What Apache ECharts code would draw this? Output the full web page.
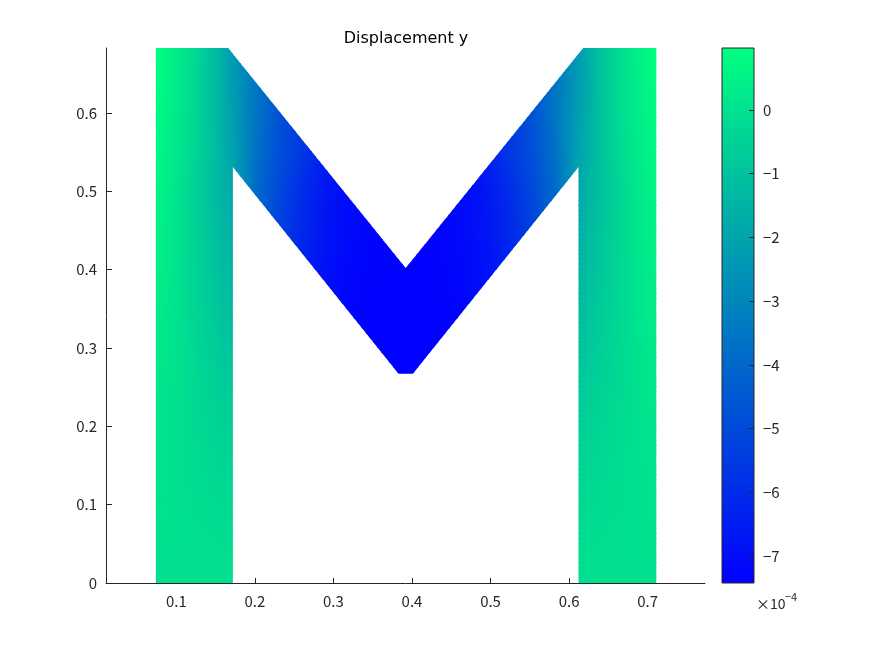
<!DOCTYPE html>
<html><head><meta charset="utf-8">
<script src="https://cdn.jsdelivr.net/npm/echarts@6/dist/echarts.min.js"></script>
<style>html,body{margin:0;padding:0;background:#fff}#c{width:875px;height:656px}</style>
</head><body><div id="c"></div>
<script>
// ---- data ----
const titleText = 'Displacement y';
const xTicks = [0.1, 0.2, 0.3, 0.4, 0.5, 0.6, 0.7];
const yTicks = [0, 0.1, 0.2, 0.3, 0.4, 0.5, 0.6];
const cbTicks = [-7, -6, -5, -4, -3, -2, -1, 0];
const cbExponent = '−4';
const xRange = [0.0105, 0.773];
const yRange = [0, 0.683];
const cRange = [-7.42, 0.97]; // displacement, ×1e-4
// outline of the M-shaped domain
const outlineX = [0.074, 0.074, 0.166, 0.392, 0.618, 0.711, 0.711, 0.612, 0.612, 0.401, 0.383, 0.172, 0.172];
const outlineY = [0, 0.683, 0.683, 0.402, 0.683, 0.683, 0, 0, 0.531, 0.267, 0.267, 0.531, 0];
// sample positions of the displacement field
const sampleX = [0.074, 0.098, 0.123, 0.148, 0.172, 0.2, 0.23, 0.26, 0.29, 0.32, 0.35, 0.392,
                 0.434, 0.464, 0.494, 0.524, 0.554, 0.584, 0.612, 0.636, 0.661, 0.686, 0.711];
const sampleY = [0, 0.05, 0.1, 0.15, 0.2, 0.25, 0.3, 0.35, 0.4, 0.45, 0.5, 0.55, 0.6, 0.65, 0.683];
const n = null;
const dispY = [
  [-0.05,-0.05,-0.05,-0.05,-0.05, n,n,n,n,n,n, n,  n,n,n,n,n,n, -0.05,-0.05,-0.05,-0.05,-0.05],
  [0.0,-0.03,-0.06,-0.1,-0.15, n,n,n,n,n,n, n,  n,n,n,n,n,n, -0.15,-0.1,-0.06,-0.03,0.0],
  [0.05,-0.03,-0.11,-0.2,-0.29, n,n,n,n,n,n, n,  n,n,n,n,n,n, -0.29,-0.2,-0.11,-0.03,0.05],
  [0.1,-0.03,-0.17,-0.31,-0.45, n,n,n,n,n,n, n,  n,n,n,n,n,n, -0.45,-0.31,-0.17,-0.03,0.1],
  [0.17,-0.02,-0.22,-0.42,-0.62, n,n,n,n,n,n, n,  n,n,n,n,n,n, -0.62,-0.42,-0.22,-0.02,0.17],
  [0.23,0.0,-0.28,-0.55,-0.83, n,n,n,n,n,n, -7.42,  n,n,n,n,n,n, -0.83,-0.55,-0.28,0.0,0.23],
  [0.3,0.03,-0.33,-0.68,-1.04, n,n,n,n,n,-7.4, -7.42,  -7.4,n,n,n,n,n, -1.04,-0.68,-0.33,0.03,0.3],
  [0.38,0.06,-0.38,-0.8,-1.25, n,n,n,n,-7.3,-7.38, -7.42,  -7.38,-7.3,n,n,n,n, -1.25,-0.8,-0.38,0.06,0.38],
  [0.47,0.1,-0.42,-0.93,-1.46, n,n,-6.4,-6.9,-7.2,-7.35, -7.42,  -7.35,-7.2,-6.9,-6.4,n,n, -1.46,-0.93,-0.42,0.1,0.47],
  [0.55,0.14,-0.46,-1.06,-1.68, n,-5.3,-6.1,-6.75,-7.1,-7.3, n,  -7.3,-7.1,-6.75,-6.1,-5.3,n, -1.68,-1.06,-0.46,0.14,0.55],
  [0.63,0.18,-0.5,-1.2,-1.9, -3.9,-5.0,-6.0,-6.7,-7.1,n, n,  n,-7.1,-6.7,-6.0,-5.0,-3.9, -1.9,-1.2,-0.5,0.18,0.63],
  [0.74,0.26,-0.35,-1.15,-2.1, -3.6,-4.8,-5.6,-6.4,n,n, n,  n,n,-6.4,-5.6,-4.8,-3.6, -2.1,-1.15,-0.35,0.26,0.74],
  [0.84,0.33,-0.3,-1.2,-2.2, -3.5,-4.7,n,n,n,n, n,  n,n,n,n,-4.7,-3.5, -2.2,-1.2,-0.3,0.33,0.84],
  [0.92,0.4,-0.28,-1.2,-2.3, -3.5,n,n,n,n,n, n,  n,n,n,n,n,-3.5, -2.3,-1.2,-0.28,0.4,0.92],
  [0.97,0.45,-0.25,-1.2,-2.3, n,n,n,n,n,n, n,  n,n,n,n,n,n, -2.3,-1.2,-0.25,0.45,0.97]
];

// ---- helpers ----
const FONT = '"Noto Sans CJK JP", "Noto Sans", sans-serif';
const TITLE_FONT = '"DejaVu Sans", sans-serif';
const AX = '#262626';
const SHADE_STEPS = 8; // shading sub-strips per row interval (rendering only)
function winterRGB(v) {
  const t = Math.max(0, Math.min(1, (v - cRange[0]) / (cRange[1] - cRange[0])));
  return [0, 255 * t, 255 * (1 - t / 2)];
}
function rgbStr(c) { return 'rgb(' + c.map(Math.round).join(',') + ')'; }
function winter(v) { return rgbStr(winterRGB(v)); }
const outlinePts = outlineX.map((x, i) => [x, outlineY[i]]);
function clipHalf(pts, inside, cut) {
  const out = [];
  for (let i = 0; i < pts.length; i++) {
    const cur = pts[i], prev = pts[(i + pts.length - 1) % pts.length];
    const ci = inside(cur), pi = inside(prev);
    if (ci) { if (!pi) out.push(cut(prev, cur)); out.push(cur); }
    else if (pi) out.push(cut(prev, cur));
  }
  return out;
}
const atY = (a, b, y) => [a[0] + (b[0] - a[0]) * (y - a[1]) / (b[1] - a[1]), y];
const fmtMinus = v => (v < 0 ? '−' + Math.abs(v) : String(v));

// one drawn strip per (row interval, shading step)
const strips = [];
for (let i = 0; i < sampleY.length - 1; i++) {
  for (let j = 0; j < SHADE_STEPS; j++) strips.push([i, j]);
}

const chart = echarts.init(document.getElementById('c'), null, {renderer: 'canvas'});
chart.setOption({
  animation: false,
  backgroundColor: '#fff',
  graphic: [
    {type: 'text', x: 406, y: 31, style: {text: titleText, textAlign: 'center', textVerticalAlign: 'top', font: '16px ' + TITLE_FONT, fill: '#000'}},
    {type: 'text', x: 756, y: 597, style: {text: '×10', font: '14px ' + FONT, fill: AX}},
    {type: 'text', x: 785, y: 591, style: {text: cbExponent, font: '11px ' + FONT, fill: AX}}
  ],
  grid: [
    {left: 106, top: 48, width: 599, height: 535},
    {left: 722, top: 48, width: 32, height: 535}
  ],
  xAxis: [
    {gridIndex: 0, type: 'value', min: xRange[0], max: xRange[1],
     axisLine: {show: true, onZero: false, lineStyle: {color: AX, width: 1}},
     axisTick: {show: true, inside: true, length: 5, customValues: xTicks, lineStyle: {color: AX}},
     axisLabel: {customValues: xTicks, formatter: v => v.toFixed(1), color: AX, fontFamily: FONT, fontSize: 15, margin: 11},
     splitLine: {show: false}},
    {gridIndex: 1, type: 'value', min: 0, max: 1, show: false}
  ],
  yAxis: [
    {gridIndex: 0, type: 'value', min: yRange[0], max: yRange[1],
     axisLine: {show: true, onZero: false, lineStyle: {color: AX, width: 1}},
     axisTick: {show: true, inside: true, length: 6, customValues: yTicks, lineStyle: {color: AX}},
     axisLabel: {customValues: yTicks, formatter: v => (v === 0 ? '0' : v.toFixed(1)), color: AX, fontFamily: FONT, fontSize: 15, margin: 9},
     splitLine: {show: false}},
    {gridIndex: 1, type: 'value', min: cRange[0], max: cRange[1], position: 'right', z: 5,
     axisLine: {show: false, onZero: false},
     axisTick: {show: true, inside: true, length: 5, customValues: cbTicks, lineStyle: {color: AX}},
     axisLabel: {customValues: cbTicks, formatter: fmtMinus, color: AX, fontFamily: FONT, fontSize: 15, margin: 9},
     splitLine: {show: false}}
  ],
  series: [
    {
      type: 'custom', name: 'field', xAxisIndex: 0, yAxisIndex: 0, z: 2, silent: true,
      data: strips,
      dimensions: ['row', 'step'],
      encode: {x: -1, y: -1},
      renderItem: function (params, api) {
        const [i, j] = strips[params.dataIndex];
        const y0 = sampleY[i], y1 = sampleY[i + 1];
        const lo = y0 + (y1 - y0) * j / SHADE_STEPS - (i === 0 && j === 0 ? 1 : 0);
        const hi = y0 + (y1 - y0) * (j + 1) / SHADE_STEPS + 0.0015 + (i === sampleY.length - 2 && j === SHADE_STEPS - 1 ? 1 : 0);
        let poly = clipHalf(outlinePts, p => p[1] >= lo, (a, b) => atY(a, b, lo));
        poly = clipHalf(poly, p => p[1] <= hi, (a, b) => atY(a, b, hi));
        if (poly.length < 3) return null;
        const pts = poly.map(p => api.coord(p));
        const w = (j + 0.5) / SHADE_STEPS;
        const rA = dispY[i], rB = dispY[i + 1];
        const idx = [], vals = [];
        for (let k = 0; k < sampleX.length; k++) {
          const a = rA[k], b = rB[k];
          if (a == null && b == null) continue;
          idx.push(k);
          vals.push(a == null ? b : b == null ? a : a * (1 - w) + b * w);
        }
        const px = k => api.coord([sampleX[k], 0])[0];
        const x0 = px(idx[0]), x1 = px(idx[idx.length - 1]);
        const stops = idx.map((k, m) => ({offset: (px(k) - x0) / (x1 - x0), color: winter(vals[m])}));
        return {type: 'polygon', shape: {points: pts},
          style: {fill: {type: 'linear', x: x0, y: 0, x2: x1, y2: 0, global: true, colorStops: stops}, stroke: null}};
      }
    },
    {
      type: 'custom', name: 'colorbar', xAxisIndex: 1, yAxisIndex: 1, z: 2, silent: true,
      data: [[0, cRange[0], 1, cRange[1]]],
      renderItem: function (params, api) {
        const a = api.coord([api.value(0), api.value(1)]);
        const b = api.coord([api.value(2), api.value(3)]);
        return {type: 'rect', shape: {x: a[0], y: b[1], width: b[0] - a[0], height: a[1] - b[1]},
          style: {fill: {type: 'linear', x: 0, y: a[1], x2: 0, y2: b[1], global: true,
            colorStops: [{offset: 0, color: winter(api.value(1))}, {offset: 1, color: winter(api.value(3))}]},
            stroke: AX, lineWidth: 1}};
      }
    }
  ]
});
</script></body></html>
